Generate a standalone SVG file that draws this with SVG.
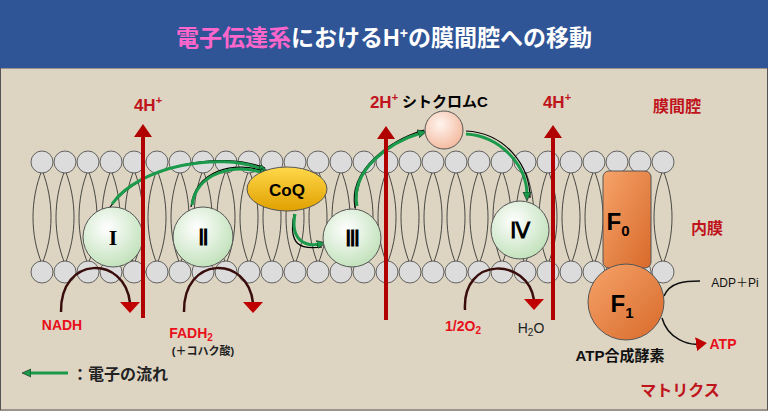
<svg xmlns="http://www.w3.org/2000/svg" width="768" height="411" viewBox="0 0 768 411">
<defs>
<radialGradient id="gc" cx="0.4" cy="0.35" r="0.7"><stop offset="0" stop-color="#ffffff"/><stop offset="1" stop-color="#bfe0b8"/></radialGradient>
<radialGradient id="gp" cx="0.4" cy="0.35" r="0.7"><stop offset="0" stop-color="#fff4ee"/><stop offset="1" stop-color="#f3b89c"/></radialGradient>
<linearGradient id="gq" x1="0" y1="0" x2="0" y2="1"><stop offset="0" stop-color="#ffd84a"/><stop offset="1" stop-color="#e0a000"/></linearGradient>
<linearGradient id="go" x1="0" y1="0" x2="1" y2="1"><stop offset="0" stop-color="#f6a36a"/><stop offset="1" stop-color="#d86a2a"/></linearGradient>
<marker id="gr" markerWidth="10" markerHeight="10" refX="3" refY="5" orient="auto" markerUnits="userSpaceOnUse"><path d="M0,1 L9,5 L0,9 z" fill="#1a9a4a" stroke="#000" stroke-width="0.5"/></marker>
<marker id="bk" markerWidth="16" markerHeight="16" refX="2" refY="8" orient="auto" markerUnits="userSpaceOnUse"><path d="M0,1 L11,8 L0,15 z" fill="#c00000"/></marker>
</defs>
<style>
.head{fill:#dcdcdc;stroke:#444;stroke-width:0.8}
.tail{fill:none;stroke:#222;stroke-width:0.8}
.cx{stroke:#555;stroke-width:1}
.lab{font-family:"Liberation Serif",serif;font-weight:bold;font-size:22px;text-anchor:middle}
.s{font-family:"Liberation Sans","Noto Sans CJK JP",sans-serif;font-weight:bold}
.red{fill:#e8101a}
.dr{fill:#c0141c}
.harr{stroke:#b00000;stroke-width:4;fill:none}
.green{fill:none;stroke:#000;stroke-width:1.2}
.garr{fill:none;stroke:#1a9a4a;stroke-width:3}
.brown{fill:none;stroke:#3a0d0d;stroke-width:2.5}
.tri{fill:#c00000}
</style>
<rect width="768" height="411" fill="#ddd5c2"/>
<rect x="0.5" y="68" width="767" height="342" fill="none" stroke="#555"/>
<rect width="768" height="68" fill="#2f5597"/>
<text x="384" y="46" text-anchor="middle" class="s" font-size="23" fill="#fff"><tspan fill="#ff66cc">電子伝達系</tspan>におけるH<tspan font-size="14" dy="-8">+</tspan><tspan dy="8">の膜間腔への移動</tspan></text>

<g id="membrane">
<g id="tails">
<path class="tail" d="M42,170 C30,200 30,235 42,264 M42,170 C54,200 54,235 42,264 M65,170 C53,200 53,235 65,264 M65,170 C77,200 77,235 65,264 M88,170 C76,200 76,235 88,264 M88,170 C100,200 100,235 88,264 M111,170 C99,200 99,235 111,264 M111,170 C123,200 123,235 111,264 M134,170 C122,200 122,235 134,264 M134,170 C146,200 146,235 134,264 M157,170 C145,200 145,235 157,264 M157,170 C169,200 169,235 157,264 M180,170 C168,200 168,235 180,264 M180,170 C192,200 192,235 180,264 M203,170 C191,200 191,235 203,264 M203,170 C215,200 215,235 203,264 M226,170 C214,200 214,235 226,264 M226,170 C238,200 238,235 226,264 M249,170 C237,200 237,235 249,264 M249,170 C261,200 261,235 249,264 M272,170 C260,200 260,235 272,264 M272,170 C284,200 284,235 272,264 M295,170 C283,200 283,235 295,264 M295,170 C307,200 307,235 295,264 M318,170 C306,200 306,235 318,264 M318,170 C330,200 330,235 318,264 M341,170 C329,200 329,235 341,264 M341,170 C353,200 353,235 341,264 M364,170 C352,200 352,235 364,264 M364,170 C376,200 376,235 364,264 M387,170 C375,200 375,235 387,264 M387,170 C399,200 399,235 387,264 M410,170 C398,200 398,235 410,264 M410,170 C422,200 422,235 410,264 M433,170 C421,200 421,235 433,264 M433,170 C445,200 445,235 433,264 M456,170 C444,200 444,235 456,264 M456,170 C468,200 468,235 456,264 M479,170 C467,200 467,235 479,264 M479,170 C491,200 491,235 479,264 M502,170 C490,200 490,235 502,264 M502,170 C514,200 514,235 502,264 M525,170 C513,200 513,235 525,264 M525,170 C537,200 537,235 525,264 M548,170 C536,200 536,235 548,264 M548,170 C560,200 560,235 548,264 M571,170 C559,200 559,235 571,264 M571,170 C583,200 583,235 571,264 M594,170 C582,200 582,235 594,264 M594,170 C606,200 606,235 594,264 M617,170 C605,200 605,235 617,264 M617,170 C629,200 629,235 617,264 M640,170 C628,200 628,235 640,264 M640,170 C652,200 652,235 640,264 M663,170 C651,200 651,235 663,264 M663,170 C675,200 675,235 663,264"/>
</g>
<g id="heads">
<circle class="head" cx="42" cy="162" r="11"/><circle class="head" cx="65" cy="162" r="11"/><circle class="head" cx="88" cy="162" r="11"/><circle class="head" cx="111" cy="162" r="11"/><circle class="head" cx="134" cy="162" r="11"/><circle class="head" cx="157" cy="162" r="11"/><circle class="head" cx="180" cy="162" r="11"/><circle class="head" cx="203" cy="162" r="11"/><circle class="head" cx="226" cy="162" r="11"/><circle class="head" cx="249" cy="162" r="11"/><circle class="head" cx="272" cy="162" r="11"/><circle class="head" cx="295" cy="162" r="11"/><circle class="head" cx="318" cy="162" r="11"/><circle class="head" cx="341" cy="162" r="11"/><circle class="head" cx="364" cy="162" r="11"/><circle class="head" cx="387" cy="162" r="11"/><circle class="head" cx="410" cy="162" r="11"/><circle class="head" cx="433" cy="162" r="11"/><circle class="head" cx="456" cy="162" r="11"/><circle class="head" cx="479" cy="162" r="11"/><circle class="head" cx="502" cy="162" r="11"/><circle class="head" cx="525" cy="162" r="11"/><circle class="head" cx="548" cy="162" r="11"/><circle class="head" cx="571" cy="162" r="11"/><circle class="head" cx="594" cy="162" r="11"/><circle class="head" cx="617" cy="162" r="11"/><circle class="head" cx="640" cy="162" r="11"/><circle class="head" cx="663" cy="162" r="11"/>
<circle class="head" cx="42" cy="272" r="11"/><circle class="head" cx="65" cy="272" r="11"/><circle class="head" cx="88" cy="272" r="11"/><circle class="head" cx="111" cy="272" r="11"/><circle class="head" cx="134" cy="272" r="11"/><circle class="head" cx="157" cy="272" r="11"/><circle class="head" cx="180" cy="272" r="11"/><circle class="head" cx="203" cy="272" r="11"/><circle class="head" cx="226" cy="272" r="11"/><circle class="head" cx="249" cy="272" r="11"/><circle class="head" cx="272" cy="272" r="11"/><circle class="head" cx="295" cy="272" r="11"/><circle class="head" cx="318" cy="272" r="11"/><circle class="head" cx="341" cy="272" r="11"/><circle class="head" cx="364" cy="272" r="11"/><circle class="head" cx="387" cy="272" r="11"/><circle class="head" cx="410" cy="272" r="11"/><circle class="head" cx="433" cy="272" r="11"/><circle class="head" cx="456" cy="272" r="11"/><circle class="head" cx="479" cy="272" r="11"/><circle class="head" cx="502" cy="272" r="11"/><circle class="head" cx="525" cy="272" r="11"/><circle class="head" cx="548" cy="272" r="11"/><circle class="head" cx="571" cy="272" r="11"/><circle class="head" cx="594" cy="272" r="11"/><circle class="head" cx="617" cy="272" r="11"/><circle class="head" cx="640" cy="272" r="11"/><circle class="head" cx="663" cy="272" r="11"/>
</g>
</g>

<g id="connectors">
<path class="brown" d="M61,312 C60,255 125,255 130,303"/><path class="tri" d="M120,302 L140,302 L130,313 z"/>
<path class="brown" d="M184,312 C183,255 248,255 253,303"/><path class="tri" d="M243,302 L263,302 L253,313 z"/>
<path class="brown" d="M465,310 C462,255 528,258 534,300"/><path class="tri" d="M524,299 L544,299 L534,310 z"/>
<path class="brown" d="M664,296 C670,282 685,281 700,281" style="stroke:#111;stroke-width:1.5"/>
<path class="brown" d="M662,318 C668,340 690,345 698,344" style="stroke:#111;stroke-width:1.5" marker-end="url(#bk)"/>
<path class="green" d="M110,207 C140,165 220,150 265,168"/>
<path class="garr" d="M112,204 C140,165 220,152 262,169" marker-end="url(#gr)"/>
<path class="green" d="M191,207 C195,170 235,160 266,172"/>
<path class="garr" d="M192,205 C197,172 235,163 263,173" marker-end="url(#gr)"/>
<path class="green" d="M294,214 C288,245 300,250 322,247"/>
<path class="garr" d="M295,214 C290,240 305,247 320,244" marker-end="url(#gr)"/>
<path class="green" d="M355,208 C348,170 390,140 424,130"/>
<path class="garr" d="M357,206 C350,170 390,142 421,133" marker-end="url(#gr)"/>
<path class="green" d="M466,131 C505,133 530,165 530,198"/>
<path class="garr" d="M466,134 C500,136 527,165 527,195" marker-end="url(#gr)"/>
<path class="garr" d="M68,373 L28,373" marker-end="url(#gr)" stroke-width="4"/>
</g>

<g id="complexI"><circle class="cx" cx="113" cy="237" r="30" fill="url(#gc)"/><text class="lab" x="113" y="245">I</text></g>
<g id="complexII"><circle class="cx" cx="203" cy="237" r="30" fill="url(#gc)"/><text class="lab" x="203" y="245">Ⅱ</text></g>
<g id="complexIII"><circle class="cx" cx="352" cy="238" r="29" fill="url(#gc)"/><text class="lab" x="352" y="246">Ⅲ</text></g>
<g id="complexIV"><circle class="cx" cx="520" cy="230" r="29" fill="url(#gc)"/><text class="lab" x="520" y="238">Ⅳ</text></g>
<g id="coq"><ellipse cx="287" cy="189" rx="40" ry="22" fill="url(#gq)" stroke="#555"/><text x="287" y="196" text-anchor="middle" class="s" font-size="17">CoQ</text></g>
<g id="cytc"><circle cx="444" cy="130" r="19" fill="url(#gp)" stroke="#555"/><text x="445" y="107" text-anchor="middle" class="s" font-size="15">シトクロムC</text></g>
<g id="atpase">
<rect x="603" y="171" width="48" height="97" rx="6" fill="url(#go)" stroke="#555"/>
<circle cx="626" cy="302" r="38" fill="url(#go)" stroke="#555"/>
<text x="618" y="230" class="s" font-size="24" text-anchor="middle">F<tspan font-size="15" dy="6">0</tspan></text>
<text x="622" y="312" class="s" font-size="24" text-anchor="middle">F<tspan font-size="15" dy="6">1</tspan></text>
</g>

<g id="protons">
<line class="harr" x1="143" y1="318" x2="143" y2="135"/><path d="M134,137 L143,124 L152,137 z" fill="#b00000"/>
<line class="harr" x1="386" y1="320" x2="386" y2="137"/><path d="M377,139 L386,126 L395,139 z" fill="#b00000"/>
<line class="harr" x1="553" y1="320" x2="553" y2="136"/><path d="M544,138 L553,125 L562,138 z" fill="#b00000"/>
</g>

<g id="labels" class="s">
<text x="148" y="111" text-anchor="middle" font-size="17" class="dr">4H<tspan font-size="11" dy="-7">+</tspan></text>
<text x="384" y="108" text-anchor="middle" font-size="17" class="dr">2H<tspan font-size="11" dy="-7">+</tspan></text>
<text x="557" y="108" text-anchor="middle" font-size="17" class="dr">4H<tspan font-size="11" dy="-7">+</tspan></text>
<text x="677" y="112" text-anchor="middle" font-size="16" class="dr">膜間腔</text>
<text x="707" y="234" text-anchor="middle" font-size="16" class="dr">内膜</text>
<text x="680" y="396" text-anchor="middle" font-size="16" class="dr">マトリクス</text>
<text x="62" y="330" text-anchor="middle" font-size="14" class="red">NADH</text>
<text x="191" y="338" text-anchor="middle" font-size="14" class="red">FADH<tspan font-size="10" dy="3">2</tspan></text>
<text x="203" y="355" text-anchor="middle" font-size="11" fill="#222">(＋コハク酸)</text>
<text x="463" y="331" text-anchor="middle" font-size="14" class="red">1/2O<tspan font-size="10" dy="3">2</tspan></text>
<text x="531" y="333" text-anchor="middle" font-size="14" font-weight="normal" fill="#222">H<tspan font-size="10" dy="3">2</tspan><tspan dy="-3">O</tspan></text>
<text x="620" y="361" text-anchor="middle" font-size="15" fill="#111">ATP合成酵素</text>
<text x="723" y="349" text-anchor="middle" font-size="14" class="red">ATP</text>
<text x="735" y="287" text-anchor="middle" font-size="12" font-weight="normal" fill="#111">ADP＋Pi</text>
<text x="72" y="380" font-size="16" fill="#222">：電子の流れ</text>
</g>
</svg>
